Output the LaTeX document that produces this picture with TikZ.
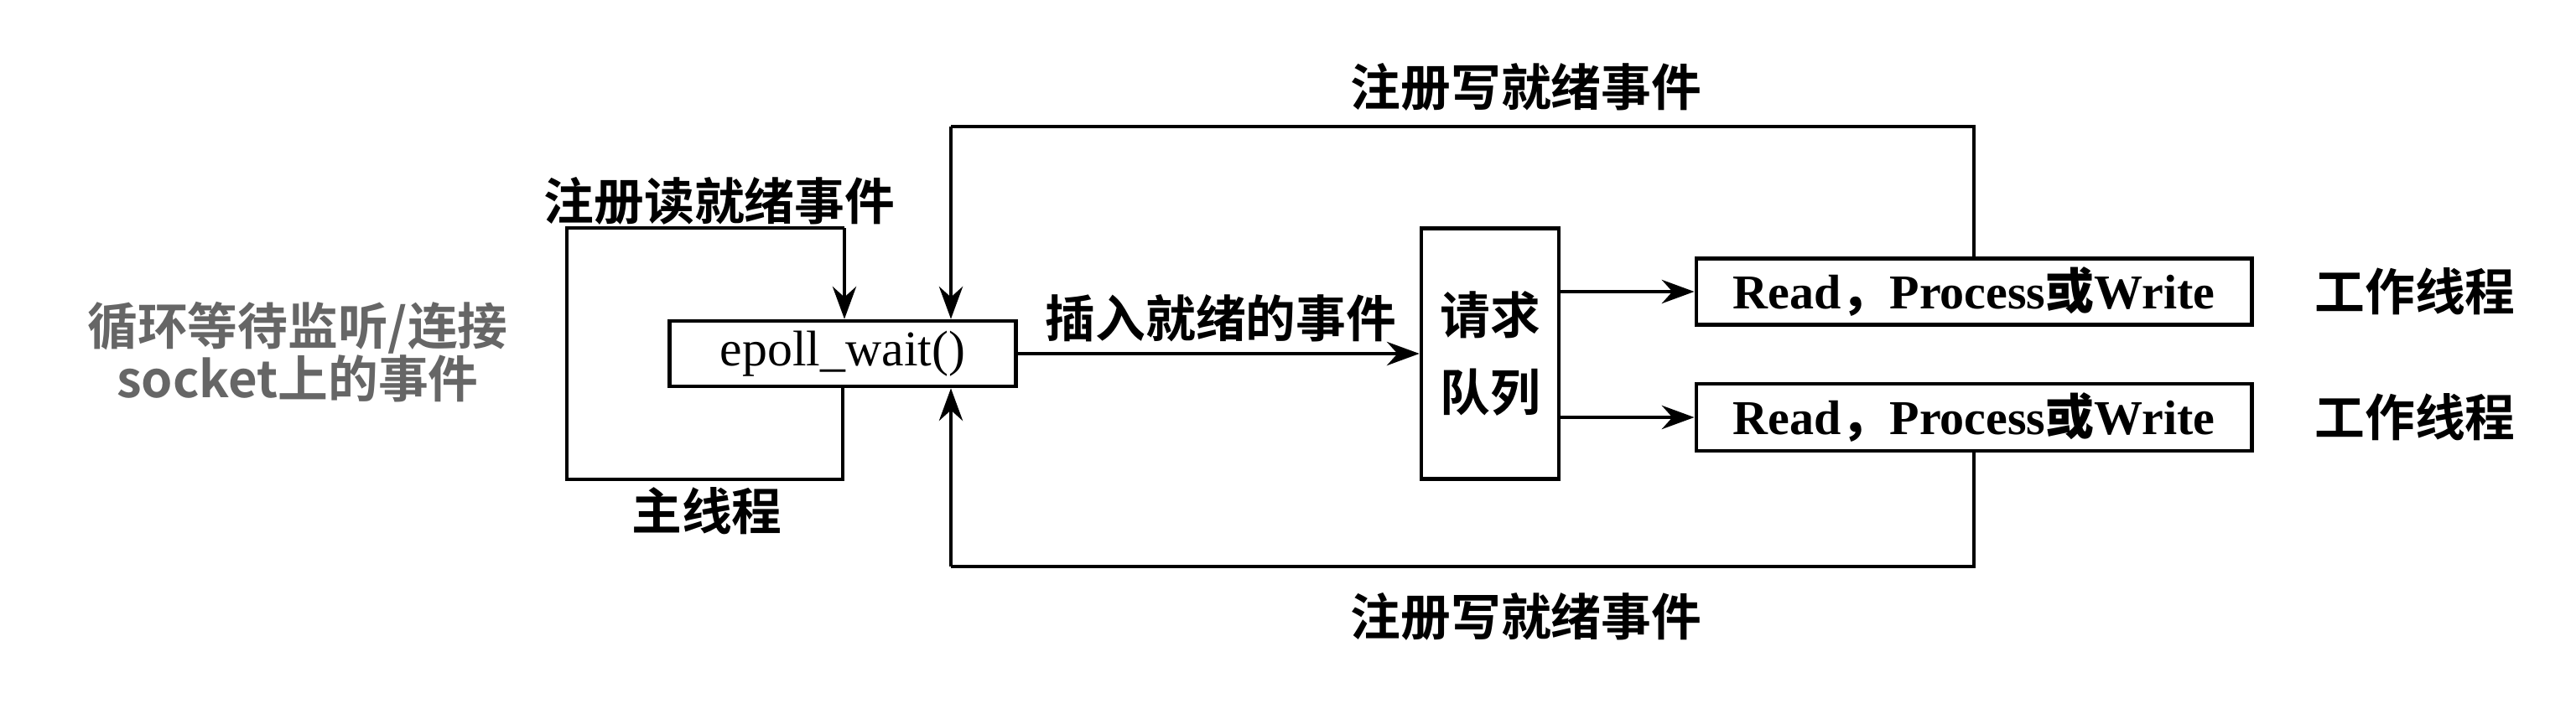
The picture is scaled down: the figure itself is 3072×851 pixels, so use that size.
\documentclass[tikz,border=0pt]{standalone}
\usepackage{fontspec}
\setmainfont{Liberation Serif}
\newfontfamily\cjk{Noto Sans CJK SC Bold}
\usetikzlibrary{arrows.meta}
\begin{document}
\begin{tikzpicture}[x=0.01cm,y=-0.01cm,
  line/.style={line width=1.3pt,draw=black},
  arr/.style={line, -{Stealth[length=11pt,width=8pt]}},
  box/.style={line, rectangle, inner sep=0pt},
  lab/.style={font=\cjk\fontsize{17}{20}\selectfont},
  gray/.style={font=\cjk\fontsize{17}{20}\selectfont, text=black!60}]
\useasboundingbox (0,0) rectangle (3072,851);
\fill[white] (0,0) rectangle (3072,851);
% nodes
\node[box, minimum width=4.13cm, minimum height=0.78cm, font=\fontsize{17}{19}\selectfont] (ep) at (1005,422) {epoll\_wait()};
\node[box, minimum width=1.64cm, minimum height=2.99cm, lab, align=center] (q) at (1777,422) {请求\\[6pt]队列};
\node[box, minimum width=6.62cm, minimum height=0.79cm, font=\fontsize{16.5}{19}\selectfont\bfseries] (w1) at (2354,348) {Read{\cjk ，}Process{\cjk 或}Write};
\node[box, minimum width=6.62cm, minimum height=0.80cm, font=\fontsize{16.5}{19}\selectfont\bfseries] (w2) at (2354,498) {Read{\cjk ，}Process{\cjk 或}Write};
% labels
\node[gray, align=center] (lt) at (355,420) {循环等待监听/连接\\[-2pt]socket上的事件};
\node[lab] (lr) at (858,240) {注册读就绪事件};
\node[lab] (lm) at (843,610) {主线程};
\node[lab] (li) at (1456,380) {插入就绪的事件};
\node[lab] (lwt) at (1820,104) {注册写就绪事件};
\node[lab] (lwb) at (1820,736) {注册写就绪事件};
\node[lab] (t1) at (2880,348) {工作线程};
\node[lab] (t2) at (2880,498) {工作线程};
% coordinates
\coordinate (a1) at (676,272);
\coordinate (a2) at (1007,272);
\coordinate (a3) at (676,572);
\coordinate (a4) at (1005,572);
\coordinate (b1) at (1134,151);
\coordinate (b2) at (2354,151);
\coordinate (c1) at (1134,676);
\coordinate (c2) at (2354,676);
% connectors
\draw[line] (ep.south -| a4) -- (a4) -- (a3) -- (a1) -- (a2);
\draw[arr] (a2) -- (ep.north -| a2);
\draw[line] (w1.north -| b2) -- (b2) -- (b1);
\draw[arr] (b1) -- (ep.north -| b1);
\draw[line] (w2.south -| c2) -- (c2) -- (c1);
\draw[arr] (c1) -- (ep.south -| c1);
\draw[arr] (ep.east) -- (q.west);
\draw[arr] (q.east |- w1) -- (w1.west);
\draw[arr] (q.east |- w2) -- (w2.west);
\end{tikzpicture}
\end{document}
